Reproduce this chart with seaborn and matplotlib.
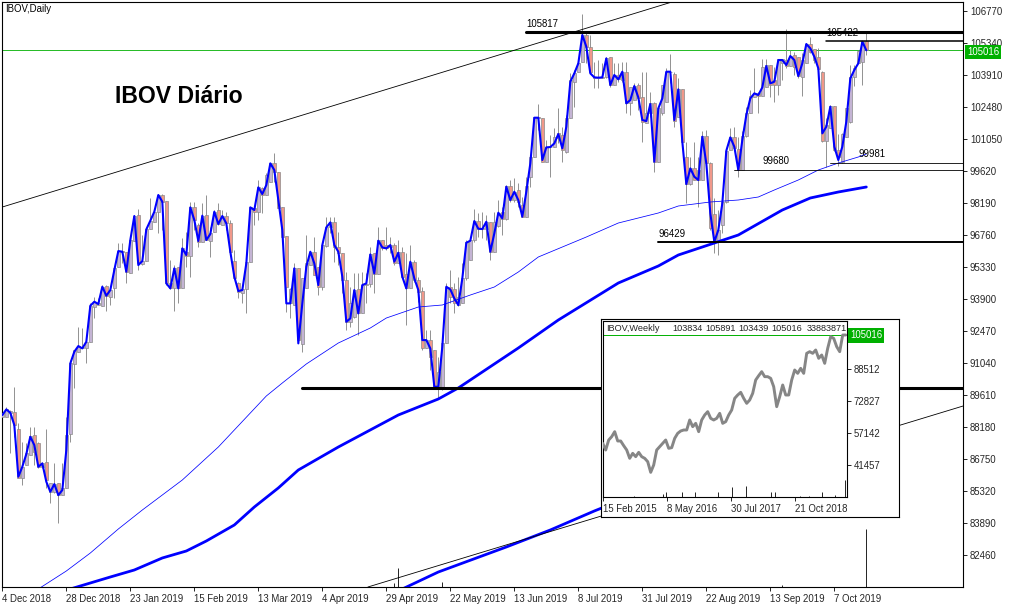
import matplotlib

matplotlib.use("Agg")

import matplotlib.pyplot as plt
import numpy as np
import pandas as pd
import seaborn as sns

W, H = 1016, 608

# daily candles, one value per bar
OPENS = [
    88638, 88608, 88787, 88832, 88087, 85911, 86477, 86925, 87818, 87446, 86403, 86627, 85286, 85286, 85658, 85136,
    85464, 87863, 90977, 91544, 91692, 91692, 91991, 93555, 93630, 93600, 94479, 94002, 94375, 95343, 96058, 95984,
    95075, 96505, 97652, 95447, 95611, 97012, 97355, 97801, 98547, 98278, 94598, 94375, 95313, 94375, 95984, 95820,
    97995, 97205, 96460, 97652, 96505, 96908, 97876, 97205, 97608, 97280, 95596, 94598, 94181, 94330, 95567, 97950,
    97801, 98845, 98547, 99142, 99962, 99560, 97995, 96714, 93704, 93630, 95269, 91886, 94375, 95417, 96013, 95343,
    94449, 96266, 97130, 97324, 96236, 95938, 94746, 92883, 93077, 94329, 93256, 94522, 94567, 95938, 95000, 96534,
    96310, 96206, 96310, 95491, 95983, 95000, 94373, 95565, 94746, 94254, 91692, 92064, 91617, 89978, 89978, 91915,
    94448, 94329, 93628, 93703, 94820, 95640, 96534, 97383, 97011, 97011, 97353, 96012, 97175, 97800, 97458, 98948,
    98322, 98769, 98098, 97577, 99365, 100259, 102017, 102002, 100035, 100676, 100706, 101302, 101228, 100482, 101972, 103611,
    104058, 104505, 105698, 105146, 103761, 103761, 103761, 103805, 104699, 103463, 103910, 103686, 104058, 102643, 102792, 103463,
    102941, 101779, 102196, 102643, 100036, 102196, 102717, 104029, 103954, 102047, 103269, 100229, 99037, 99737, 99663, 99216,
    101183, 99991, 97696, 96459, 97205, 98247, 100557, 101123, 100587, 99663, 101183, 102196, 102941, 103090, 102986, 103358,
    104357, 103686, 103462, 104431, 104580, 104312, 104803, 104729, 103835, 104461, 105295, 105057, 104699, 104058, 100974, 101525,
    102524, 100557, 100006, 101153, 101794, 103835, 104431, 104476, 105444,
]
CLOSES = [
    88787, 88966, 88906, 88266, 85911, 86403, 86999, 87774, 87074, 86403, 86552, 85807, 85658, 85628, 85136, 85435,
    87818, 91022, 91618, 91797, 91767, 91991, 93600, 93779, 93734, 94449, 94032, 94300, 95269, 96058, 96013, 95120,
    96535, 97608, 95492, 95611, 97012, 97399, 97801, 98547, 98248, 94628, 94375, 95269, 94375, 96162, 95820, 97995,
    97429, 96460, 97623, 96535, 96833, 97801, 97235, 97608, 97280, 96013, 94822, 94225, 94330, 95567, 97995, 97801,
    98889, 98547, 99441, 99962, 99590, 97950, 96684, 94449, 94330, 95269, 92065, 94821, 95492, 96013, 94970, 94449,
    96312, 97130, 97324, 96236, 95938, 94746, 92883, 93703, 94299, 93256, 94522, 94567, 95893, 95000, 96534, 96161,
    96161, 96310, 95491, 95983, 94895, 94373, 95565, 94746, 94224, 91692, 92064, 91319, 89978, 90648, 91915, 94448,
    94001, 93703, 94001, 94820, 96460, 96534, 97383, 97011, 97056, 97353, 96012, 97353, 97756, 97458, 98948, 98322,
    98694, 98247, 97577, 98948, 100259, 102017, 101972, 100035, 100706, 100706, 101153, 101079, 100557, 101972, 103686, 103984,
    104431, 105698, 105176, 104058, 103835, 103805, 103835, 104654, 103463, 103910, 103716, 104058, 102643, 103388, 103418, 102866,
    101824, 102196, 102643, 100036, 102420, 103462, 104058, 104058, 101868, 103269, 100930, 99037, 99767, 99216, 99216, 101183,
    99961, 97055, 96459, 96981, 98247, 100527, 101153, 100631, 99663, 101183, 102196, 102986, 103090, 102986, 104282, 104357,
    103462, 103462, 104610, 104610, 104312, 104759, 104282, 103865, 104580, 105295, 104953, 104580, 104178, 100974, 101674, 102524,
    100557, 100259, 101272, 102420, 103835, 104208, 104997, 105444, 105016,
]
HIGHS = [
    89830, 89085, 88936, 89979, 88340, 87520, 87446, 88161, 88191, 87520, 86627, 88087, 85658, 86552, 85658, 86552,
    88638, 91171, 91618, 92661, 92587, 92140, 93704, 94002, 93927, 94523, 94523, 94449, 95343, 96386, 96386, 96013,
    96684, 97652, 97906, 96759, 97057, 98397, 97876, 98591, 98591, 98278, 95641, 95417, 95343, 96610, 96908, 98248,
    98248, 97280, 98174, 98547, 97131, 97876, 98174, 97876, 97801, 97429, 96088, 94672, 94375, 95567, 98025, 97995,
    99217, 98919, 99515, 99962, 100409, 99590, 98025, 96714, 94375, 95492, 95269, 94821, 96759, 96013, 96684, 95343,
    96312, 97577, 97577, 97577, 96906, 95938, 95118, 94448, 95044, 95044, 95118, 95044, 96236, 95938, 97130, 96534,
    97100, 96683, 96385, 96534, 96236, 95938, 96310, 95640, 94895, 94448, 92511, 92511, 91617, 91319, 92064, 94597,
    95193, 94597, 94895, 95491, 96534, 96683, 97920, 97726, 97800, 97651, 97353, 97800, 98322, 98024, 98992, 99216,
    99290, 99067, 98471, 99365, 100333, 102047, 102613, 102002, 101004, 101228, 101526, 102419, 101600, 102122, 103984, 104133,
    104580, 106636, 105846, 105698, 104505, 104580, 104431, 104729, 104729, 104431, 104431, 104505, 104505, 103388, 103537, 103537,
    104058, 104058, 103165, 102717, 102494, 103462, 104208, 104848, 104058, 103760, 103269, 100930, 100259, 100930, 100259, 101421,
    101451, 100036, 98396, 97875, 98471, 100557, 101525, 101570, 101153, 101421, 102494, 103239, 104208, 103165, 104610, 104610,
    104357, 104282, 104610, 104610, 105951, 105027, 104953, 104729, 104878, 105325, 105593, 105057, 105102, 104103, 101973, 102569,
    102524, 101272, 101302, 102420, 104357, 104357, 105027, 105444, 105876,
]
LOWS = [
    88489, 88608, 86999, 87744, 85911, 85583, 86477, 86925, 86477, 86328, 86328, 85435, 84764, 85211, 83870, 85136,
    85464, 87520, 89905, 91544, 91692, 91022, 91991, 93033, 93630, 93600, 93361, 93630, 93927, 95343, 95492, 94628,
    95075, 96505, 95194, 95417, 95611, 97012, 97355, 96863, 96982, 94523, 94330, 93376, 93704, 94375, 95343, 94896,
    96982, 96237, 96460, 96535, 95760, 96908, 97205, 97205, 96982, 95939, 94822, 93927, 93704, 93287, 95567, 97205,
    97429, 97757, 98547, 99142, 99142, 97950, 96684, 93332, 93033, 93630, 91916, 91544, 94375, 95417, 94970, 94076,
    94300, 96236, 96832, 95565, 95416, 94150, 92511, 92660, 93032, 92288, 93256, 93703, 94448, 94150, 95000, 96087,
    96087, 95938, 95416, 95491, 94895, 92734, 94373, 94671, 93777, 91617, 91692, 90723, 89903, 89456, 89829, 91915,
    93703, 93256, 93584, 93703, 94746, 95640, 96460, 96683, 96608, 96534, 95640, 96012, 97130, 96757, 97428, 98247,
    98247, 98024, 97577, 97577, 98918, 100259, 101451, 100035, 100035, 99365, 100706, 100855, 100035, 100408, 101972, 102494,
    104058, 104505, 104431, 103984, 103313, 103313, 103761, 103761, 103388, 103463, 103611, 103611, 102196, 102122, 102792, 102345,
    100930, 101779, 102047, 99589, 100036, 102122, 102717, 103537, 101600, 102047, 100855, 98173, 98993, 99216, 98024, 99216,
    99737, 96981, 95938, 95863, 96832, 98173, 100557, 100557, 99365, 99663, 101153, 102196, 102941, 102196, 102986, 103358,
    102941, 102717, 103016, 103686, 104208, 104312, 103910, 103760, 102986, 104431, 104878, 104431, 104133, 100930, 99812, 101525,
    100527, 99857, 99961, 101153, 101749, 103418, 104431, 103462, 104803,
]
# short blue average drawn over the candles
FAST_MA = [
    88712, 88966, 88817, 88266, 85956, 86403, 86969, 87744, 87372, 86403, 86552, 85733, 85286, 85628, 85136, 85360,
    87148, 91022, 91544, 91797, 91692, 91991, 93600, 93779, 93674, 94449, 94047, 94300, 95194, 96043, 96013, 95120,
    96535, 97608, 95417, 95596, 97012, 97399, 97801, 98547, 98248, 94598, 94375, 95269, 94375, 96162, 95865, 97995,
    97429, 96490, 97623, 96535, 96803, 97801, 97250, 97608, 97280, 96013, 94896, 94255, 94300, 95492, 97995, 97876,
    98889, 98591, 98994, 99962, 99664, 98323, 96982, 93704, 93704, 95269, 91916, 93704, 95343, 96013, 95492, 94523,
    96312, 97100, 97324, 96310, 96012, 94895, 92883, 93032, 94299, 93256, 94522, 94597, 95893, 95044, 96504, 96206,
    96161, 96310, 95565, 95968, 94895, 94373, 95565, 94820, 94299, 92064, 92064, 91692, 89978, 89978, 91766, 94448,
    94329, 93926, 93628, 94820, 96415, 96504, 97383, 97041, 97026, 97353, 96012, 96832, 97756, 97503, 98918, 98322,
    98694, 98322, 97577, 98694, 99961, 102002, 102002, 100110, 100676, 100691, 100855, 101272, 100631, 101600, 103611, 103984,
    104431, 105698, 105176, 103984, 103805, 103790, 103805, 104654, 103463, 103910, 103716, 104058, 102643, 102792, 103418, 102911,
    101898, 101853, 102613, 100036, 102420, 102866, 104058, 104058, 101898, 103269, 100930, 99037, 99737, 99365, 99216, 101153,
    99961, 97726, 96459, 96981, 98173, 100527, 101123, 100706, 99663, 101004, 102122, 102866, 103090, 103016, 103358, 104312,
    103537, 103612, 104580, 104580, 104357, 104759, 104580, 103865, 104431, 105295, 105102, 104729, 104208, 101302, 101600, 102494,
    100706, 100110, 100706, 101824, 103760, 104133, 104431, 105400, 105016,
]

# long averages, read at the bars where the curve bends
THIN_MA_BARS = [9, 16, 22, 29, 35, 45, 54, 66, 70, 76, 84, 92, 96, 104, 110, 117, 123, 129, 134, 146, 154, 164, 169, 177, 184, 189, 193, 199, 204, 209, 214, 216]
THIN_MA = [80940, 81744, 82548, 83621, 84470, 85811, 87285, 89565, 90146, 90995, 91933, 92604, 93050, 93542, 93632, 94078, 94436, 95106, 95777, 96670, 97296, 97743, 98056, 98235, 98324, 98458, 98771, 99218, 99665, 99977, 100246, 100380]
THICK_MA_BARS = [17, 27, 33, 40, 46, 51, 58, 63, 69, 74, 84, 99, 109, 114, 129, 139, 154, 164, 169, 178, 184, 195, 202, 209, 216]
THICK_MA = [80940, 81476, 81789, 82326, 82638, 83085, 83800, 84604, 85455, 86258, 87285, 88716, 89431, 89923, 91710, 92961, 94615, 95375, 95866, 96402, 96760, 97877, 98414, 98682, 98905]
LOW_MA_BARS = [100, 109, 126, 137, 148, 153]
LOW_MA = [80940, 81699, 82817, 83577, 84426, 84784]

# drawn levels and trend lines
LEVELS = [
    ("105817", 105817, 131, 2.2),
    ("105422", 105422, 206, 1.1),
    ("99981", 99981, 207, 0.6),
    ("99680", 99680, 183, 0.6),
    ("96429", 96429, 164, 1.4),
]
LEVEL_TEXT_BARS = [131, 206, 214, 190, 164]
SUPPORT_LEVEL = 89920
SUPPORT_START = 75
TREND_UP_BARS = [0, 167.4]
TREND_UP = [98011, 107173]
TREND_LOW_BARS = [91.4, 240.2]
TREND_LOW = [81029, 89118]
LAST_PRICE = 105016

VOLUME_BARS = [98, 99, 110, 195, 216]
VOLUME_TOPS = [81200, 81878, 81250, 81120, 83621]

PRICE_TICKS = [106770, 105340, 103910, 102480, 101050, 99620, 98190, 96760, 95330, 93900, 92470, 91040, 89610, 88180, 86750, 85320, 83890, 82460]
DATE_LABELS = ["4 Dec 2018", "28 Dec 2018", "23 Jan 2019", "15 Feb 2019", "13 Mar 2019", "4 Apr 2019", "29 Apr 2019", "22 May 2019", "13 Jun 2019", "8 Jul 2019", "31 Jul 2019", "22 Aug 2019", "13 Sep 2019", "7 Oct 2019"]

# weekly inset, read every third week
WEEKLY_CLOSE = [
    52074, 48806, 53708, 55342, 57793, 53218, 53218, 50930, 48806, 44721, 47172, 45538, 47659, 45538, 44721, 43087,
    37858, 41453, 48806, 50440, 52074, 53708, 49623, 49950, 54525, 56976, 58120, 58610, 58610, 63512, 60244, 61878,
    57793, 63512, 65963, 67597, 64329, 63512, 64329, 66780, 61878, 62695, 65963, 68414, 74133, 75767, 77074, 74133,
    71682, 73316, 76584, 83120, 85244, 87205, 84754, 84754, 83937, 79852, 70048, 74950, 80669, 75767, 75767, 83120,
    88022, 86388, 88839, 86388, 96192, 97009, 96192, 97826, 93741, 95375, 91290, 98643, 104362, 103545, 99460, 97009,
    105179, 105179,
]
WEEKLY_VOLUME_WEEKS = [31, 60, 63, 79, 92, 115, 129, 143, 168, 172, 197, 206, 219, 232, 242]
WEEKLY_VOLUME_TOPS = [26400, 27000, 28050, 28050, 28050, 28050, 30500, 31000, 28050, 28050, 26400, 26400, 28050, 26800, 34250]
WEEKLY_TICKS = [88512, 72827, 57142, 41457]
WEEKLY_DATES = ["15 Feb 2015", "8 May 2016", "30 Jul 2017", "21 Oct 2018"]
WEEKLY_HEADER = [("IBOV,Weekly", 0.016), ("103834", 0.284), ("105891", 0.419), ("103439", 0.554), ("105016", 0.689), ("33883871", 0.836)]

sns.set_style("white")
plt.rcParams["font.family"] = ["Liberation Sans", "DejaVu Sans"]

FONT = 6.9
BLUE = "#0000FF"
GREEN = "#00B000"
HAIR = 0.6

fig = plt.figure(figsize=(W / 100, H / 100), dpi=100)
ax = fig.add_axes([2 / W, 1 - 587 / H, 961 / W, 585 / H])

bars = np.arange(len(CLOSES))
opens = np.array(OPENS)
closes = np.array(CLOSES)
rising = closes >= opens

ax.vlines(bars, LOWS, HIGHS, color="#808080", lw=HAIR, zorder=2)
ax.bar(
    bars,
    np.abs(closes - opens),
    bottom=np.minimum(opens, closes),
    width=0.62,
    color=np.where(rising, "#C4B4D4", "#F0988A"),
    edgecolor="#8A8A8A",
    linewidth=0.5,
    zorder=3,
)

fast = pd.DataFrame({"bar": bars, "value": FAST_MA})
sns.lineplot(data=fast, x="bar", y="value", color=BLUE, lw=1.5, ax=ax, zorder=5, estimator=None)
sns.lineplot(x=THIN_MA_BARS, y=THIN_MA, color=BLUE, lw=0.55, ax=ax, zorder=4, estimator=None)
sns.lineplot(x=THICK_MA_BARS, y=THICK_MA, color=BLUE, lw=2.0, ax=ax, zorder=4, estimator=None)
sns.lineplot(x=LOW_MA_BARS, y=LOW_MA, color=BLUE, lw=2.0, ax=ax, zorder=4, estimator=None)

ax.plot(TREND_UP_BARS, TREND_UP, color="black", lw=0.6, zorder=4)
ax.plot(TREND_LOW_BARS, TREND_LOW, color="black", lw=0.6, zorder=4)
ax.axhline(LAST_PRICE, color=GREEN, lw=0.6, zorder=1)

xlim = (-0.08, 240.17)
for (label, level, start, width), text_bar in zip(LEVELS, LEVEL_TEXT_BARS):
    ax.plot([start, xlim[1]], [level, level], color="black", lw=width, zorder=6)
    ax.text(text_bar, level + 160, label, fontsize=FONT, color="black", va="bottom", ha="left", zorder=7)
ax.plot([SUPPORT_START, xlim[1]], [SUPPORT_LEVEL, SUPPORT_LEVEL], color="black", lw=2.2, zorder=6)
ax.vlines(VOLUME_BARS, 81029, VOLUME_TOPS, color="black", lw=HAIR, zorder=2)

ax.text(28.2, 102940, "IBOV Diário", fontsize=16.6, fontweight="bold", color="black", va="center", ha="left")
ax.text(0.7, 106870, "IBOV,Daily", fontsize=FONT, va="center", ha="left", color="black")

ax.set_xlim(xlim)
ax.set_ylim(81029, 107173)
ax.set_xlabel("")
ax.set_ylabel("")
ax.yaxis.tick_right()
ax.set_yticks(PRICE_TICKS)
ax.set_yticklabels([str(t) for t in PRICE_TICKS], fontsize=FONT)
ax.set_xticks(np.arange(len(DATE_LABELS)) * 16)
ax.set_xticklabels(DATE_LABELS, fontsize=FONT, ha="left")
ax.tick_params(axis="both", length=3, width=HAIR, color="black", pad=2, bottom=True, right=True)
for spine in ax.spines.values():
    spine.set_linewidth(0.8)
    spine.set_color("black")
ax.text(1.004, LAST_PRICE - 60, str(LAST_PRICE), transform=ax.get_yaxis_transform(), fontsize=FONT, color="white",
        va="center", ha="left", bbox=dict(boxstyle="square,pad=0.2", fc=GREEN, ec=GREEN, lw=0), zorder=8)

# weekly panel
frame = fig.add_axes([601 / W, 1 - 517 / H, 298 / W, 198 / H], zorder=10)
frame.set_xticks([])
frame.set_yticks([])
frame.set_facecolor("white")
for spine in frame.spines.values():
    spine.set_linewidth(0.8)
    spine.set_color("black")

inset = fig.add_axes([602.7 / W, 1 - 497 / H, 244.3 / W, 176.3 / H], zorder=11)
inset.set_facecolor("white")
weeks = np.arange(len(WEEKLY_CLOSE)) * 3
sns.lineplot(x=weeks, y=WEEKLY_CLOSE, color="#868686", lw=2.1, ax=inset, estimator=None, zorder=3)
inset.axhline(LAST_PRICE, color=GREEN, lw=0.7, zorder=2)
inset.vlines(WEEKLY_VOLUME_WEEKS, 25766, WEEKLY_VOLUME_TOPS, color="black", lw=HAIR, zorder=2)
inset.set_xlim(0, 244.3)
inset.set_ylim(25766, 112189)
inset.set_xlabel("")
inset.set_ylabel("")
inset.yaxis.tick_right()
inset.set_yticks(WEEKLY_TICKS)
inset.set_yticklabels([str(t) for t in WEEKLY_TICKS], fontsize=FONT)
inset.set_xticks(np.arange(len(WEEKLY_DATES)) * 64)
inset.set_xticklabels(WEEKLY_DATES, fontsize=FONT, ha="left")
inset.tick_params(axis="both", length=3, width=HAIR, color="black", pad=2, bottom=True, right=True)
for spine in inset.spines.values():
    spine.set_linewidth(0.8)
    spine.set_color("black")
for label, pos in WEEKLY_HEADER:
    inset.text(pos, 108610, label, transform=inset.get_yaxis_transform(), fontsize=6.6, va="center", ha="left")
inset.text(1.012, LAST_PRICE, str(LAST_PRICE), transform=inset.get_yaxis_transform(), fontsize=FONT, color="white",
           va="center", ha="left", bbox=dict(boxstyle="square,pad=0.25", fc=GREEN, ec=GREEN, lw=0))

fig.savefig("out.png", dpi=100)
